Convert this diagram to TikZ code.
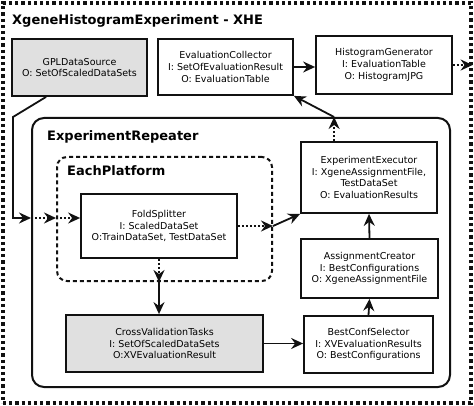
\documentclass[tikz,border=0pt]{standalone}
\usepackage{fontspec}
\setmainfont{DejaVu Sans}
\usetikzlibrary{arrows.meta,positioning,calc}
\definecolor{ink}    {HTML}{111111}
\definecolor{srcGray}{HTML}{E0E0E0}

\begin{document}
\begin{tikzpicture}[x=1pt, y=-1pt,
    block/.style={draw=ink, line width=1.8pt, align=center, inner sep=2pt,
                  font=\fontsize{9.5}{11.8}\selectfont},
    source/.style={block, fill=srcGray},
    region/.style={draw=ink, line width=2pt, rounded corners=12pt},
    caption/.style={font=\fontsize{13}{15}\selectfont\bfseries, anchor=base west, inner sep=0pt},
    flow/.style={draw=ink, line width=1.8pt, -{Stealth[length=12pt,width=11pt,inset=4pt]}},
    hint/.style={flow, dash pattern=on 1.8pt off 2.2pt}]
  \useasboundingbox (0,0) rectangle (474,406);
  % frames
  \node[draw=ink, line width=3.2pt, dash pattern=on 3.2pt off 3pt,
        minimum width=468, minimum height=400] (xhe) at (237,203) {};
  \node[region, minimum width=418, minimum height=269] (rep) at (241,252.5) {};
  \node[region, dash pattern=on 4pt off 3pt, rounded corners=10pt,
        minimum width=215, minimum height=124] (plat) at (164.5,219) {};
  \node[caption] (xheTitle)  at (12,25)  {XgeneHistogramExperiment - XHE};
  \node[caption] (repTitle)  at (47,141) {ExperimentRepeater};
  \node[caption] (platTitle) at (67,176) {EachPlatform};
  % components
  \node[source, minimum width=135, minimum height=57] (gpl) at (79.5,67.5)
       {GPLDataSource\\O: SetOfScaledDataSets};
  \node[block, minimum width=135, minimum height=56] (eval) at (225.5,67)
       {EvaluationCollector\\I: SetOfEvaluationResult\\O: EvaluationTable};
  \node[block, minimum width=136, minimum height=58] (hist) at (384,65)
       {HistogramGenerator\\I: EvaluationTable\\O: HistogramJPG};
  \node[block, minimum width=156, minimum height=64] (fold) at (159,226)
       {FoldSplitter\\I: ScaledDataSet\\O:TrainDataSet, TestDataSet};
  \node[block, minimum width=136, minimum height=71] (exec) at (369,177.5)
       {ExperimentExecutor\\I: XgeneAssignmentFile,\\TestDataSet\\O: EvaluationResults};
  \node[block, minimum width=137, minimum height=59] (assign) at (369.5,268.5)
       {AssignmentCreator\\I: BestConfigurations\\O: XgeneAssignmentFile};
  \node[block, minimum width=129, minimum height=57] (best) at (368.5,344.5)
       {BestConfSelector\\I: XVEvaluationResults\\O: BestConfigurations};
  \node[source, minimum width=197, minimum height=57] (cv) at (164.5,343.5)
       {CrossValidationTasks\\I: SetOfScaledDataSets\\O:XVEvaluationResult};
  % connectors
  \coordinate (bend)  at (13,117);
  \coordinate (entry) at ([yshift=8pt]fold.west);
  \coordinate (tap)   at ([xshift=34pt]exec.north west);
  \draw[flow] ([xshift=35pt]gpl.south west) -- (bend) |- (rep.west |- entry);
  \draw[hint] (rep.west |- entry) -- (plat.west |- entry);
  \draw[hint] (plat.west |- entry) -- (entry);
  \draw[hint] (fold.east) -- (plat.east |- fold.east);
  \draw[flow] (plat.east |- fold.east) -- (exec.south west);
  \draw[hint] (fold.south) -- (plat.south -| fold.south);
  \draw[flow] (plat.south -| fold.south) -- (cv.north -| fold.south);
  \draw[flow] (cv.east) -- (cv.east -| best.west);
  \draw[flow] (best.north) -- (assign.south);
  \draw[flow] (assign.north) -- (exec.south);
  \draw[hint] (tap) -- (rep.north -| tap);
  \draw[flow] (rep.north -| tap) -- (eval.south east);
  \draw[flow] (eval.east) -- (eval.east -| hist.west);
  \draw[hint] (hist.east) -- (xhe.east |- hist.east);
\end{tikzpicture}
\end{document}
